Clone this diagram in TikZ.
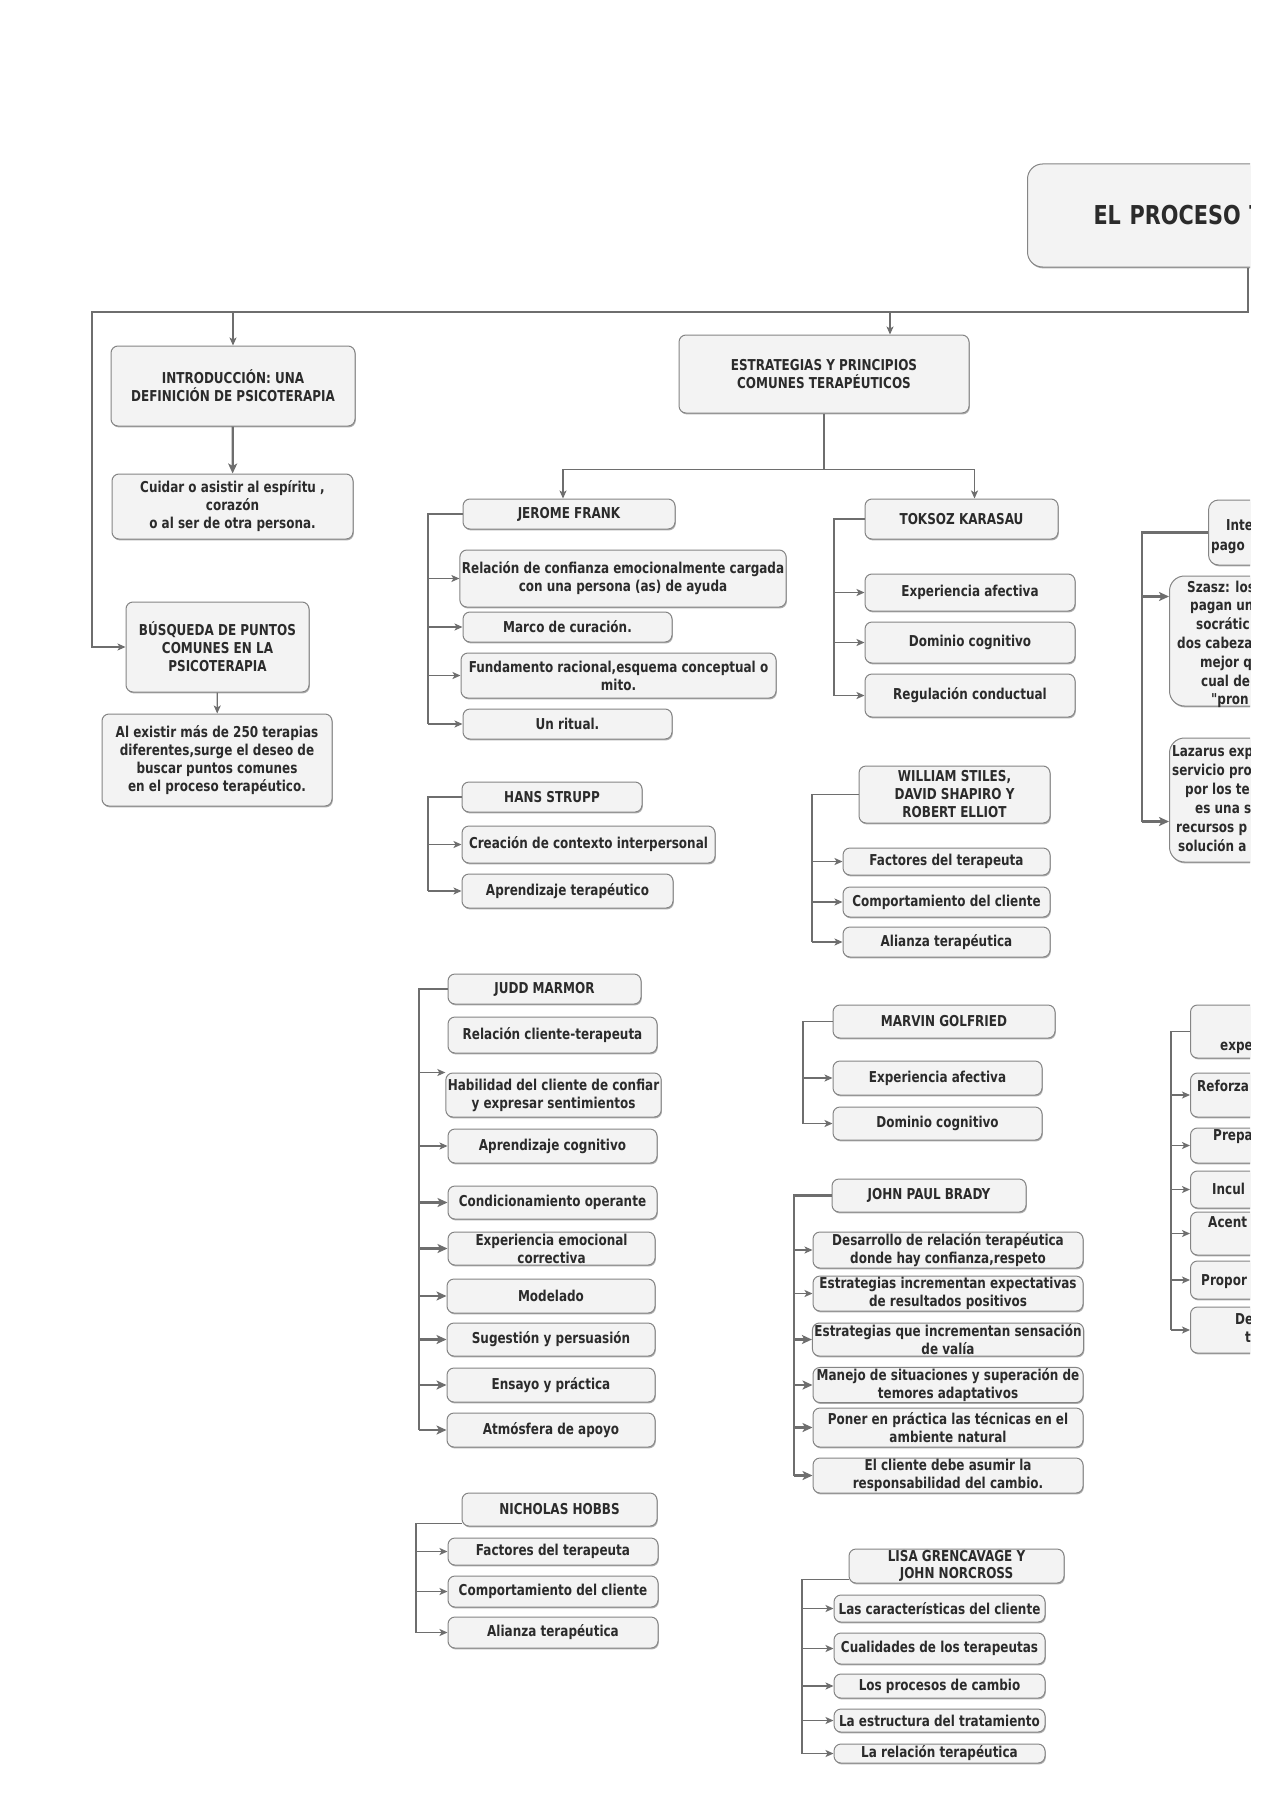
\documentclass[tikz,border=0pt]{standalone}
\usepackage{fontspec}
\usetikzlibrary{arrows.meta, shadows, calc, positioning}
\newfontfamily\boxfont[FakeStretch=0.8]{DejaVu Sans Bold}
\definecolor{boxfill}{HTML}{F3F3F3}
\definecolor{boxline}{HTML}{858585}
\definecolor{wire}{HTML}{6E6E6E}
\definecolor{ink}{HTML}{2B2B2B}
\tikzset{box/.style={draw=boxline, fill=boxfill, line width=1pt, rounded corners=7pt, text=ink, align=center, inner xsep=2pt, inner ysep=1pt, font=\boxfont\fontsize{15}{18}\selectfont, drop shadow={shadow xshift=0.8pt, shadow yshift=-1.4pt, fill=black!45, opacity=0.7}}}
\tikzset{bigbox/.style={box, rounded corners=15pt}}
\tikzset{frag/.style={text=ink, inner sep=0pt, anchor=west, text height=11pt, text depth=3pt, font=\boxfont\fontsize{15}{18}\selectfont}}
\tikzset{link/.style={draw=wire, line width=1.3pt}}
\tikzset{tlink/.style={link, line width=2.3pt}}
\tikzset{arr/.style={link, -{Stealth[length=8pt, width=7pt, inset=2pt]}}}
\tikzset{tarr/.style={link, line width=2.3pt, -{Stealth[length=10pt, width=9pt, inset=2.5pt]}}}

\begin{document}
\begin{tikzpicture}[x=1pt, y=-1pt]
    \useasboundingbox (0,0) rectangle (1280,1811);
    \fill [white] (0,0) rectangle (1280,1811);
    \clip (0,0) rectangle (1250,1811);

    % title and left column
    \node [bigbox, anchor=west, minimum height=103, text width=300pt, align=left, inner xsep=66pt, font=\boxfont\fontsize{26}{30}\selectfont] (ttl) at (1027, 215.5) {EL PROCESO T};

    \node [box, minimum width=244, minimum height=80] (intro) at (233, 386) {INTRODUCCIÓN: UNA\\DEFINICIÓN DE PSICOTERAPIA};
    \node [box, minimum width=241, minimum height=65] (cuidar) at (232.5, 506.5) {Cuidar o asistir al espíritu ,\\corazón\\o al ser de otra persona.};
    \node [box, minimum width=183, minimum height=90] (busq) at (217.5, 647) {BÚSQUEDA DE PUNTOS\\COMUNES EN LA\\PSICOTERAPIA};
    \node [box, minimum width=230, minimum height=92] (existir) at (217, 760) {Al existir más de 250 terapias\\diferentes,surge el deseo de\\buscar puntos comunes\\en el proceso terapéutico.};

    \node [box, minimum width=290, minimum height=78] (estr) at (824, 374) {ESTRATEGIAS Y PRINCIPIOS\\COMUNES TERAPÉUTICOS};

    % jerome frank
    \node [box, minimum width=212, minimum height=30] (jf)  at (569, 514) {JEROME FRANK};
    \node [box, minimum width=324, minimum height=57] (jf1) at (623, 578.5) {Relación de confianza emocionalmente cargada\\con una persona (as) de ayuda};
    \node [box, minimum width=209, minimum height=30] (jf2) at (567.5, 627) {Marco de curación.};
    \node [box, minimum width=315, minimum height=45] (jf3) at (618.5, 675.5) {Fundamento racional,esquema conceptual o\\mito.};
    \node [box, minimum width=209, minimum height=30] (jf4) at (567.5, 724) {Un ritual.};

    % toksoz karasau
    \node [box, minimum width=193, minimum height=40] (tk)  at (961.5, 519) {TOKSOZ KARASAU};
    \node [box, minimum width=210, minimum height=37] (tk1) at (970, 592.5) {Experiencia afectiva};
    \node [box, minimum width=210, minimum height=41] (tk2) at (970, 642.5) {Dominio cognitivo};
    \node [box, minimum width=210, minimum height=43] (tk3) at (970, 695.5) {Regulación conductual};

    % hans strupp
    \node [box, minimum width=180, minimum height=30] (hs)  at (552, 797) {HANS STRUPP};
    \node [box, minimum width=253, minimum height=37] (hs1) at (588.5, 844.5) {Creación de contexto interpersonal};
    \node [box, minimum width=211, minimum height=34] (hs2) at (567.5, 891) {Aprendizaje terapéutico};

    % stiles, shapiro, elliot
    \node [box, minimum width=191, minimum height=57] (ws)  at (954.5, 794.5) {WILLIAM STILES,\\DAVID SHAPIRO Y\\ROBERT ELLIOT};
    \node [box, minimum width=207, minimum height=27] (ws1) at (946.5, 861.5) {Factores del terapeuta};
    \node [box, minimum width=207, minimum height=30] (ws2) at (946.5, 902) {Comportamiento del cliente};
    \node [box, minimum width=207, minimum height=30] (ws3) at (946.5, 942) {Alianza terapéutica};

    % judd marmor
    \node [box, minimum width=193, minimum height=30] (jm)  at (544.5, 989) {JUDD MARMOR};
    \node [box, minimum width=209, minimum height=36] (jm1) at (552.5, 1035) {Relación cliente-terapeuta};
    \node [box, minimum width=213, minimum height=44] (jm2) at (553.5, 1095) {Habilidad del cliente de confiar\\y expresar sentimientos};
    \node [box, minimum width=209, minimum height=34] (jm3) at (552.5, 1146) {Aprendizaje cognitivo};
    \node [box, minimum width=209, minimum height=33] (jm4) at (552.5, 1202.5) {Condicionamiento operante};
    \node [box, minimum width=207, minimum height=33] (jm5) at (551.5, 1248.5) {Experiencia emocional\\correctiva};
    \node [box, minimum width=208, minimum height=34] (jm6) at (551, 1296) {Modelado};
    \node [box, minimum width=208, minimum height=33] (jm7) at (551, 1339.5) {Sugestión y persuasión};
    \node [box, minimum width=208, minimum height=34] (jm8) at (551, 1385) {Ensayo y práctica};
    \node [box, minimum width=208, minimum height=34] (jm9) at (551, 1430) {Atmósfera de apoyo};

    % marvin golfried
    \node [box, minimum width=222, minimum height=33] (mg)  at (944, 1021.5) {MARVIN GOLFRIED};
    \node [box, minimum width=209, minimum height=34] (mg1) at (937.5, 1078) {Experiencia afectiva};
    \node [box, minimum width=209, minimum height=33] (mg2) at (937.5, 1123.5) {Dominio cognitivo};

    % john paul brady
    \node [box, minimum width=194, minimum height=33] (jp)  at (929, 1195.5) {JOHN PAUL BRADY};
    \node [box, minimum width=270, minimum height=36] (jp1) at (948, 1250) {Desarrollo de relación terapéutica\\donde hay confianza,respeto};
    \node [box, minimum width=270, minimum height=35] (jp2) at (948, 1293.5) {Estrategias incrementan expectativas\\de resultados positivos};
    \node [box, minimum width=270, minimum height=33] (jp3) at (948, 1339.5) {Estrategias que incrementan sensación\\de valía};
    \node [box, minimum width=270, minimum height=34] (jp4) at (948, 1385) {Manejo de situaciones y superación de\\temores adaptativos};
    \node [box, minimum width=270, minimum height=39] (jp5) at (948, 1427.5) {Poner en práctica las técnicas en el\\ambiente natural};
    \node [box, minimum width=270, minimum height=35] (jp6) at (948, 1475.5) {El cliente debe asumir la\\responsabilidad del cambio.};

    % nicholas hobbs
    \node [box, minimum width=195, minimum height=33] (hb)  at (559.5, 1509.5) {NICHOLAS HOBBS};
    \node [box, minimum width=210, minimum height=27] (hb1) at (553, 1551.5) {Factores del terapeuta};
    \node [box, minimum width=210, minimum height=31] (hb2) at (553, 1591.5) {Comportamiento del cliente};
    \node [box, minimum width=210, minimum height=31] (hb3) at (553, 1632.5) {Alianza terapéutica};

    % grencavage y norcross
    \node [box, minimum width=215, minimum height=34, font=\boxfont\fontsize{15}{17}\selectfont] (lg) at (956.5, 1566) {LISA GRENCAVAGE Y\\JOHN NORCROSS};
    \node [box, minimum width=211, minimum height=27] (lg1) at (939.5, 1608.5) {Las características del cliente};
    \node [box, minimum width=211, minimum height=31] (lg2) at (939.5, 1648.5) {Cualidades de los terapeutas};
    \node [box, minimum width=211, minimum height=24] (lg3) at (939.5, 1686) {Los procesos de cambio};
    \node [box, minimum width=211, minimum height=23] (lg4) at (939.5, 1720.5) {La estructura del tratamiento};
    \node [box, minimum width=211, minimum height=19] (lg5) at (939.5, 1753.5) {La relación terapéutica};

    % right column, cut at the edge
    \node [box, anchor=west, rounded corners=10pt, minimum width=200, minimum height=65] (inte) at (1208, 532.5) {};
    \node [frag] (inte-1) at (1226, 526) {Inte};
    \node [frag] (inte-2) at (1211, 546) {pago};
    \node [bigbox, anchor=west, minimum width=200, minimum height=130] (szasz) at (1169, 641) {};
    \foreach \tx/\px [count=\i] in {Szasz: los/1187, pagan un/1190, socrátic/1196, dos cabeza/1177, mejor qu/1200, cual de/1201, "pron/1211}
        \node [frag] (szasz-\i) at ({\px}, {588+18.8*(\i-1)}) {\tx};
    \node [bigbox, anchor=west, minimum width=200, minimum height=124] (laz) at (1169, 800) {};
    \foreach \tx/\px [count=\i] in {Lazarus exp/1172, servicio pro/1172, por los te/1185, es una s/1195, recursos p/1176, solución a/1178}
        \node [frag] (laz-\i) at ({\px}, {752+19*(\i-1)}) {\tx};

    \node [box, anchor=west, minimum width=200, minimum height=53] (ex0) at (1190, 1031.5) {};
    \node [box, anchor=west, minimum width=200, minimum height=44] (ex1) at (1190, 1095) {};
    \node [box, anchor=west, minimum width=200, minimum height=35] (ex2) at (1190, 1145.5) {};
    \node [box, anchor=west, minimum width=200, minimum height=37] (ex3) at (1190, 1189.5) {};
    \node [box, anchor=west, minimum width=200, minimum height=43] (ex4) at (1190, 1233.5) {};
    \node [box, anchor=west, minimum width=200, minimum height=38] (ex5) at (1190, 1280) {};
    \node [box, anchor=west, minimum width=200, minimum height=46] (ex6) at (1190, 1330) {};
    \node [frag] (ex0-t) at (1220, 1046) {expe};
    \node [frag] (ex1-t) at (1197, 1087) {Reforza};
    \node [frag] (ex2-t) at (1213, 1136) {Prepa};
    \node [frag] (ex3-t) at (1212, 1190) {Incul};
    \node [frag] (ex4-t) at (1208, 1223) {Acent};
    \node [frag] (ex5-t) at (1201, 1281) {Propor};
    \node [frag] (ex6-t) at (1235, 1320) {De};
    \node [frag] (ex6-u) at (1245, 1338) {t};

    % connectors
    \coordinate (hub) at (1248, 312);
    \coordinate (rail) at (92, 312);
    \draw [arr] ([xshift=221pt]ttl.south west) -- (hub) -- (rail) |- (busq.west);
    \draw [arr] (intro.north |- rail) -- (intro.north);
    \draw [arr] ([xshift=66pt]estr.north |- rail) -- ([xshift=66pt]estr.north);
    \draw [tarr] (intro) -- (cuidar);
    \draw [arr] (busq) -- (existir);

    \draw [link] (estr.south) -- ++(0, 56) coordinate (fork);
    \draw [arr] (fork) -| ([xshift=-6pt]jf.north);
    \draw [arr] (fork) -| ([xshift=13pt]tk.north);

    \coordinate (jfs) at (428, 0);
    \draw [link] (jf.west) -| (jfs |- jf4.west);
    \foreach \n in {1,...,4}
        \draw [arr] (jfs |- jf\n.west) -- (jf\n.west);

    \coordinate (tks) at (834, 0);
    \draw [link] (tk.west) -| (tks |- tk3.west);
    \foreach \n in {1,...,3}
        \draw [arr] (tks |- tk\n.west) -- (tk\n.west);

    \coordinate (hss) at (428, 0);
    \draw [link] (hs.west) -| (hss |- hs2.west);
    \foreach \n in {1,2}
        \draw [arr] (hss |- hs\n.west) -- (hs\n.west);

    \coordinate (wss) at (812, 0);
    \draw [link] (ws.west) -| (wss |- ws3.west);
    \foreach \n in {1,...,3}
        \draw [arr] (wss |- ws\n.west) -- (ws\n.west);

    \coordinate (jms) at (419, 0);
    \draw [tlink] (jm.west) -| (jms |- jm9.west);
    \draw [arr] (jms |- jm2.north west) -- (jm2.north west);
    \draw [arr] (jms |- jm3.west) -- (jm3.west);
    \foreach \n in {4,...,9}
        \draw [tarr] (jms |- jm\n.west) -- (jm\n.west);

    \coordinate (mgs) at (803, 0);
    \draw [link] (mg.west) -| (mgs |- mg2.west);
    \foreach \n in {1,2}
        \draw [arr] (mgs |- mg\n.west) -- (mg\n.west);

    \coordinate (jps) at (794, 0);
    \draw [tlink] (jp.west) -| (jps |- jp6.west);
    \foreach \n in {1,2}
        \draw [arr] (jps |- jp\n.west) -- (jp\n.west);
    \foreach \n in {3,...,6}
        \draw [tarr] (jps |- jp\n.west) -- (jp\n.west);

    \coordinate (hbs) at (416, 0);
    \draw [link] ([yshift=3pt]hb.south west) -| (hbs |- hb3.west);
    \foreach \n in {1,...,3}
        \draw [arr] (hbs |- hb\n.west) -- (hb\n.west);

    \coordinate (lgs) at (802, 0);
    \draw [link] ([yshift=4pt]lg.south west) -| (lgs |- lg5.west);
    \foreach \n in {1,...,5}
        \draw [arr] (lgs |- lg\n.west) -- (lg\n.west);

    \coordinate (szasz-in) at ([yshift=-21pt]szasz.north west);
    \coordinate (laz-in) at ([yshift=41pt]laz.south west);
    \coordinate (ints) at (1142, 0);
    \draw [tlink] (inte.west) -| (ints |- laz-in);
    \draw [tarr] (ints |- szasz-in) -- (szasz-in);
    \draw [tarr] (ints |- laz-in) -- (laz-in);

    \coordinate (exs) at (1171, 0);
    \draw [link] (ex0.west) -| (exs |- ex6.west);
    \foreach \n in {1,...,6}
        \draw [arr] (exs |- ex\n.west) -- (ex\n.west);
\end{tikzpicture}
\end{document}
